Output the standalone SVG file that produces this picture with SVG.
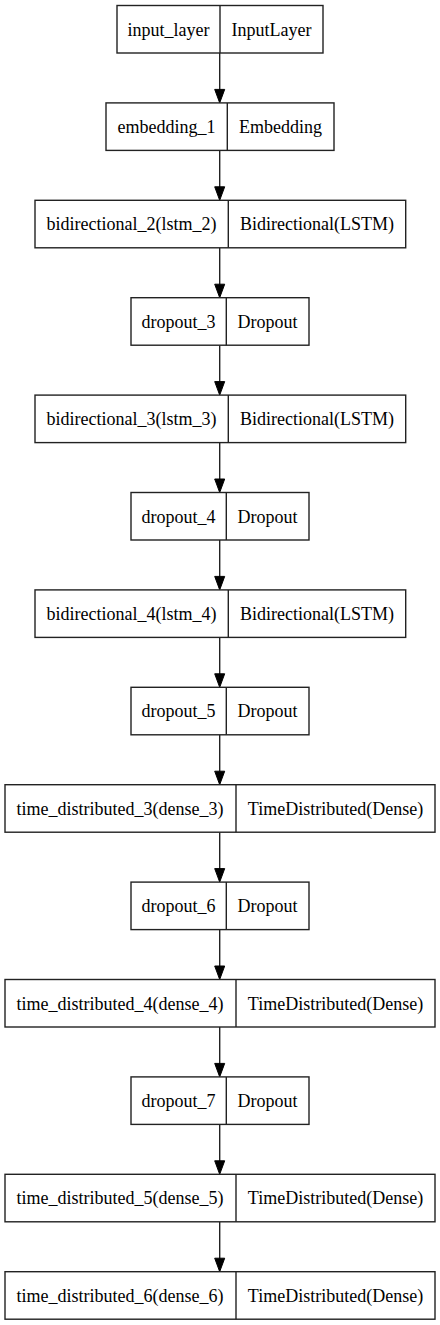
<svg xmlns="http://www.w3.org/2000/svg" width="440" height="1325" viewBox="0 0 440 1325">
<style>
.b{fill:#fff;stroke:#222;stroke-width:1.4}
.d{stroke:#222;stroke-width:1.4}
.t{font-family:"Liberation Serif","Times New Roman",serif;font-size:18px;fill:#000;text-anchor:middle}
.e{stroke:#222;stroke-width:1.4;fill:none}
.h{fill:#000;stroke:#000;stroke-width:1}
</style>
<rect width="440" height="1325" fill="#fff"/>
<g id="connectors">
<path class="e" d="M219.7 53 V89.9 M219.7 150.4 V187.3 M219.7 247.8 V284.7 M219.7 345.2 V382.1 M219.7 442.6 V479.5 M219.7 540 V576.9 M219.7 637.4 V674.3 M219.7 734.8 V771.7 M219.7 832.2 V869.1 M219.7 929.6 V966.5 M219.7 1027 V1063.9 M219.7 1124.4 V1161.3 M219.7 1221.8 V1258.7"/>
<polygon class="h" points="214.7,89.4 224.7,89.4 219.7,102.9"/>
<polygon class="h" points="214.7,186.8 224.7,186.8 219.7,200.3"/>
<polygon class="h" points="214.7,284.2 224.7,284.2 219.7,297.7"/>
<polygon class="h" points="214.7,381.6 224.7,381.6 219.7,395.1"/>
<polygon class="h" points="214.7,479 224.7,479 219.7,492.5"/>
<polygon class="h" points="214.7,576.4 224.7,576.4 219.7,589.9"/>
<polygon class="h" points="214.7,673.8 224.7,673.8 219.7,687.3"/>
<polygon class="h" points="214.7,771.2 224.7,771.2 219.7,784.7"/>
<polygon class="h" points="214.7,868.6 224.7,868.6 219.7,882.1"/>
<polygon class="h" points="214.7,966 224.7,966 219.7,979.5"/>
<polygon class="h" points="214.7,1063.4 224.7,1063.4 219.7,1076.9"/>
<polygon class="h" points="214.7,1160.8 224.7,1160.8 219.7,1174.3"/>
<polygon class="h" points="214.7,1258.2 224.7,1258.2 219.7,1271.7"/>
</g>
<g id="input_layer">
<rect class="b" x="117" y="5.5" width="206" height="47.5"/>
<line class="d" x1="220" y1="5.5" x2="220" y2="53"/>
<text class="t" x="168.5" y="35.5">input_layer</text>
<text class="t" x="271.5" y="35.5">InputLayer</text>
</g>
<g id="embedding_1">
<rect class="b" x="106" y="102.9" width="228" height="47.5"/>
<line class="d" x1="227.3" y1="102.9" x2="227.3" y2="150.4"/>
<text class="t" x="166.6" y="132.9">embedding_1</text>
<text class="t" x="280.6" y="132.9">Embedding</text>
</g>
<g id="bidirectional_2">
<rect class="b" x="35" y="200.3" width="370.7" height="47.5"/>
<line class="d" x1="228.3" y1="200.3" x2="228.3" y2="247.8"/>
<text class="t" x="131.6" y="230.3">bidirectional_2(lstm_2)</text>
<text class="t" x="317" y="230.3">Bidirectional(LSTM)</text>
</g>
<g id="dropout_3">
<rect class="b" x="131" y="297.7" width="178" height="47.5"/>
<line class="d" x1="226.3" y1="297.7" x2="226.3" y2="345.2"/>
<text class="t" x="178.6" y="327.7">dropout_3</text>
<text class="t" x="267.6" y="327.7">Dropout</text>
</g>
<g id="bidirectional_3">
<rect class="b" x="35" y="395.1" width="370.7" height="47.5"/>
<line class="d" x1="228.3" y1="395.1" x2="228.3" y2="442.6"/>
<text class="t" x="131.6" y="425.1">bidirectional_3(lstm_3)</text>
<text class="t" x="317" y="425.1">Bidirectional(LSTM)</text>
</g>
<g id="dropout_4">
<rect class="b" x="131" y="492.5" width="178" height="47.5"/>
<line class="d" x1="226.3" y1="492.5" x2="226.3" y2="540"/>
<text class="t" x="178.6" y="522.5">dropout_4</text>
<text class="t" x="267.6" y="522.5">Dropout</text>
</g>
<g id="bidirectional_4">
<rect class="b" x="35" y="589.9" width="370.7" height="47.5"/>
<line class="d" x1="228.3" y1="589.9" x2="228.3" y2="637.4"/>
<text class="t" x="131.6" y="619.9">bidirectional_4(lstm_4)</text>
<text class="t" x="317" y="619.9">Bidirectional(LSTM)</text>
</g>
<g id="dropout_5">
<rect class="b" x="131" y="687.3" width="178" height="47.5"/>
<line class="d" x1="226.3" y1="687.3" x2="226.3" y2="734.8"/>
<text class="t" x="178.6" y="717.3">dropout_5</text>
<text class="t" x="267.6" y="717.3">Dropout</text>
</g>
<g id="time_distributed_3">
<rect class="b" x="5" y="784.7" width="430" height="47.5"/>
<line class="d" x1="236" y1="784.7" x2="236" y2="832.2"/>
<text class="t" x="120" y="814.7">time_distributed_3(dense_3)</text>
<text class="t" x="335.5" y="814.7">TimeDistributed(Dense)</text>
</g>
<g id="dropout_6">
<rect class="b" x="131" y="882.1" width="178" height="47.5"/>
<line class="d" x1="226.3" y1="882.1" x2="226.3" y2="929.6"/>
<text class="t" x="178.6" y="912.1">dropout_6</text>
<text class="t" x="267.6" y="912.1">Dropout</text>
</g>
<g id="time_distributed_4">
<rect class="b" x="5" y="979.5" width="430" height="47.5"/>
<line class="d" x1="236" y1="979.5" x2="236" y2="1027"/>
<text class="t" x="120" y="1009.5">time_distributed_4(dense_4)</text>
<text class="t" x="335.5" y="1009.5">TimeDistributed(Dense)</text>
</g>
<g id="dropout_7">
<rect class="b" x="131" y="1076.9" width="178" height="47.5"/>
<line class="d" x1="226.3" y1="1076.9" x2="226.3" y2="1124.4"/>
<text class="t" x="178.6" y="1106.9">dropout_7</text>
<text class="t" x="267.6" y="1106.9">Dropout</text>
</g>
<g id="time_distributed_5">
<rect class="b" x="5" y="1174.3" width="430" height="47.5"/>
<line class="d" x1="236" y1="1174.3" x2="236" y2="1221.8"/>
<text class="t" x="120" y="1204.3">time_distributed_5(dense_5)</text>
<text class="t" x="335.5" y="1204.3">TimeDistributed(Dense)</text>
</g>
<g id="time_distributed_6">
<rect class="b" x="5" y="1271.7" width="430" height="47.5"/>
<line class="d" x1="236" y1="1271.7" x2="236" y2="1319.2"/>
<text class="t" x="120" y="1301.7">time_distributed_6(dense_6)</text>
<text class="t" x="335.5" y="1301.7">TimeDistributed(Dense)</text>
</g>
</svg>
